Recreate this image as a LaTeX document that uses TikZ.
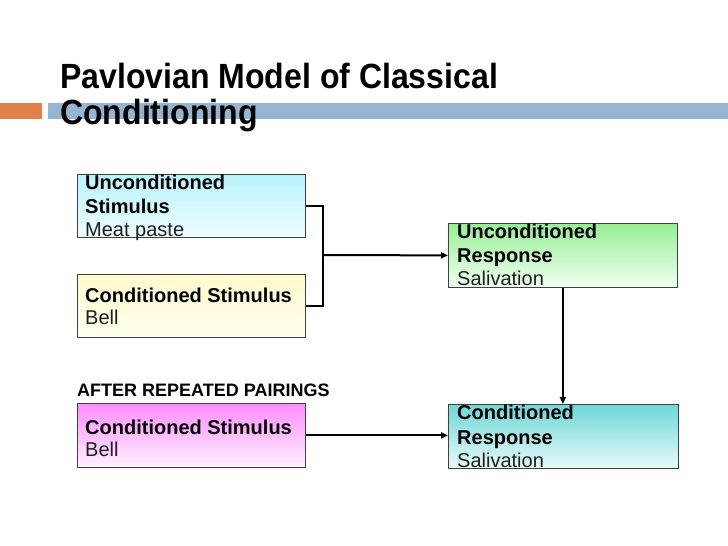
\documentclass[tikz,border=0pt]{standalone}
\usepackage{fontspec}
\setmainfont{Liberation Sans}
\newfontfamily\titlefont[FakeStretch=0.915]{Liberation Sans}
\usetikzlibrary{arrows.meta}
\definecolor{barorange}{RGB}{224,130,74}
\definecolor{barblue}{RGB}{148,182,210}
\definecolor{ucsTop}{RGB}{184,244,252}
\definecolor{ucsBot}{RGB}{238,253,255}
\definecolor{csTop}{RGB}{255,250,205}
\definecolor{csBot}{RGB}{255,255,236}
\definecolor{ucrTop}{RGB}{150,238,150}
\definecolor{ucrBot}{RGB}{242,255,242}
\definecolor{csiiTop}{RGB}{255,140,255}
\definecolor{csiiBot}{RGB}{255,242,255}
\definecolor{crTop}{RGB}{110,215,215}
\definecolor{crBot}{RGB}{232,250,250}
\definecolor{txtgray}{RGB}{30,30,30}
\begin{document}
\begin{tikzpicture}[x=1pt,y=-1pt,
  box/.style={draw=black!75, line width=0.8pt, inner sep=0pt, anchor=north west, minimum width=228pt, minimum height=63pt},
  lbl/.style={anchor=base west, inner sep=0pt, font=\fontsize{20}{24}\selectfont},
  blbl/.style={lbl, font=\fontsize{20}{24}\selectfont\bfseries},
  rlbl/.style={lbl, text=txtgray},
  conn/.style={line width=2pt, black},
  arr/.style={conn, -{Triangle[length=7pt,width=6pt]}}]
\useasboundingbox (0,0) rectangle (728,546);
\fill[white] (0,0) rectangle (728,546);
% header bars
\fill[barorange] (0,103) rectangle (42,119);
\fill[barblue] (48,103) rectangle (728,119);
% title
\node[anchor=base west, inner sep=0pt, font=\titlefont\bfseries\fontsize{35}{36}\selectfont] (title1) at (60,88) {Pavlovian Model of Classical};
\node[anchor=base west, inner sep=0pt, font=\titlefont\bfseries\fontsize{35}{36}\selectfont] (title2) at (60,124) {Conditioning};
% boxes
\node[box, top color=ucsTop, bottom color=ucsBot] (ucs) at (77,174) {};
\node[box, top color=csTop, bottom color=csBot] (cs) at (77,274) {};
\node[box, top color=ucrTop, bottom color=ucrBot, minimum width=229pt, minimum height=64pt] (ucr) at (448,223) {};
\node[box, top color=csiiTop, bottom color=csiiBot, minimum height=64pt] (csii) at (77,403) {};
\node[box, top color=crTop, bottom color=crBot, minimum width=230pt, minimum height=64pt] (cr) at (448,404) {};
% texts
\node[blbl] (ucsA) at (85,189) {Unconditioned};
\node[blbl] (ucsB) at (85,213) {Stimulus};
\node[rlbl] (ucsC) at (85,236) {Meat paste};
\node[blbl] (csA) at (85,302) {Conditioned Stimulus};
\node[rlbl] (csB) at (85,324) {Bell};
\node[blbl] (ucrA) at (457,238) {Unconditioned};
\node[blbl] (ucrB) at (457,262) {Response};
\node[rlbl] (ucrC) at (457,285) {Salivation};
\node[anchor=base west, inner sep=0pt, font=\fontsize{18}{20}\selectfont\bfseries] (after) at (77,396) {AFTER REPEATED PAIRINGS};
\node[blbl] (csiiA) at (85,434) {Conditioned Stimulus};
\node[rlbl] (csiiB) at (85,456) {Bell};
\node[blbl] (crA) at (457,419) {Conditioned};
\node[blbl] (crB) at (457,444) {Response};
\node[rlbl] (crC) at (457,467) {Salivation};
% connectors
\coordinate (bx) at (323,255);
\draw[conn] (ucs.east) -| (bx) |- (cs.east);
\draw[arr] (bx) -- (ucr.west);
\draw[arr] (ucr.south) -- (ucr.south |- cr.north);
\draw[arr] (csii.east) -- (csii.east -| cr.west);
\end{tikzpicture}
\end{document}
